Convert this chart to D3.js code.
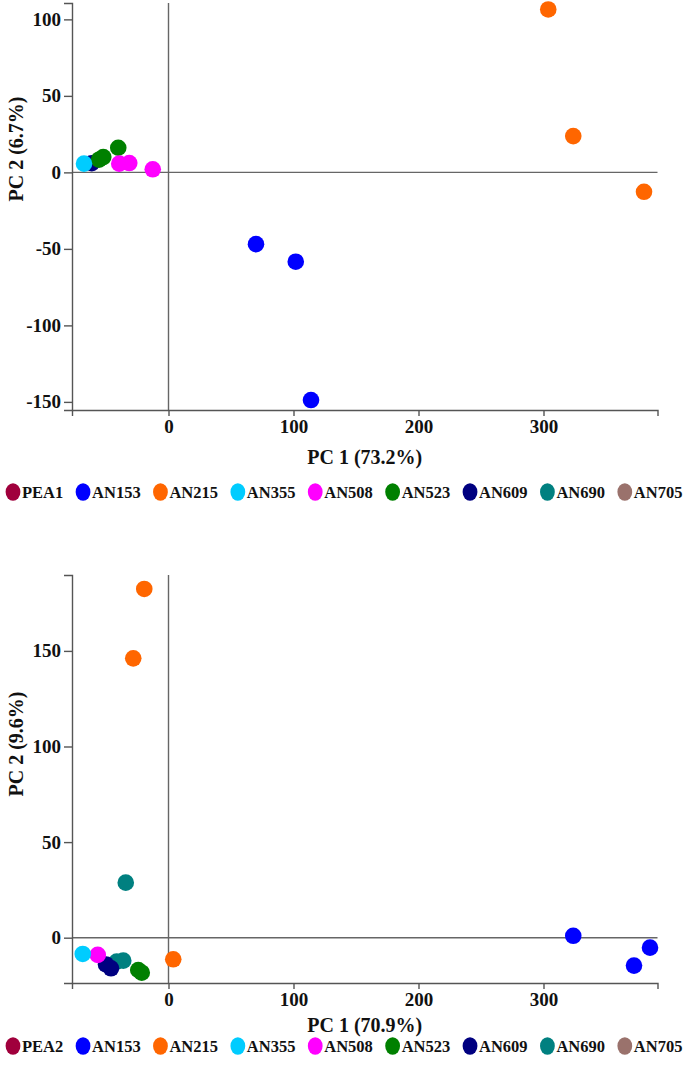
<!DOCTYPE html>
<html>
<head>
<meta charset="utf-8">
<script src="https://cdn.jsdelivr.net/npm/d3@7"></script>
<style>
  body { margin: 0; background: #fff; }
  svg text { font-family: "Liberation Serif", "Times New Roman", serif; font-weight: bold; fill: #111; }
</style>
</head>
<body>
<svg id="chart" width="685" height="1073"></svg>
<script>
// groups in legend order and their colours
const groups = ["AN153", "AN215", "AN355", "AN508", "AN523", "AN609", "AN690", "AN705"]
const colors = ["#0000ff", "#ff6600", "#00ccff", "#ff00ff", "#008000", "#000080", "#008080", "#9a726c"]
const refA = "PEA1"
const refB = "PEA2"
const refColor = "#a0003c"

// points of the first PCA: [group, PC1, PC2]
const pointsA = [
    ["AN153", 70, -46.9], ["AN153", 101.8, -58.4], ["AN153", 114, -148.8],
    ["AN215", 303.8, 106.5], ["AN215", 323.8, 23.7], ["AN215", 380.4, -12.7],
    ["AN355", -67.6, 5.7],
    ["AN508", -39.4, 5.7], ["AN508", -31.4, 6.1], ["AN508", -12.6, 2],
    ["AN523", -55.6, 8.3], ["AN523", -52.2, 10], ["AN523", -40.2, 16.1],
    ["AN609", -61.4, 6]
]

// points of the second PCA
const pointsB = [
    ["AN153", 323.8, 1.0], ["AN153", 385.2, -5.2], ["AN153", 372.4, -14.6],
    ["AN215", -19.4, 182.4], ["AN215", -28.2, 146.1], ["AN215", 3.8, -11.3],
    ["AN355", -68.6, -8.5],
    ["AN508", -56.6, -9],
    ["AN523", -24.2, -16.9], ["AN523", -21.4, -18.3],
    ["AN609", -50, -14], ["AN609", -46, -16],
    ["AN690", -34.2, 28.8], ["AN690", -41.4, -12.5], ["AN690", -36.2, -12]
]

const xTicks = [0, 100, 200, 300]
const yTicksA = [-150, -100, -50, 0, 50, 100]
const yTicksB = [0, 50, 100, 150]

const svg = d3.select("#chart")
const colorOf = d3.scaleOrdinal([refA, refB, ...groups], [refColor, refColor, ...colors])
// later groups are drawn first
const drawOrder = g => -groups.indexOf(g)
// plain hyphen for negatives, like the original
const fmt = d => String(d)

function panel(cfg) {
    let x = d3.scaleLinear().domain([-77.2, 391.2]).range([72, 657.5])
    let y = d3.scaleLinear().domain(cfg.yDomain).range([cfg.bottom, cfg.top])
    let g = svg.append("g")

    // zero lines
    g.append("line")
        .attr("x1", x(0)).attr("x2", x(0))
        .attr("y1", cfg.top).attr("y2", cfg.bottom)
        .attr("stroke", "#666").attr("stroke-width", 1.4)
    g.append("line")
        .attr("x1", 72).attr("x2", x.range()[1])
        .attr("y1", y(0)).attr("y2", y(0))
        .attr("stroke", "#666").attr("stroke-width", 1.4)

    let ax = g.append("g")
        .attr("transform", `translate(0,${cfg.bottom})`)
        .call(d3.axisBottom(x).tickValues(xTicks).tickFormat(fmt).tickSizeOuter(0).tickSize(6).tickPadding(4))
    let ay = g.append("g")
        .attr("transform", "translate(72,0)")
        .call(d3.axisLeft(y).tickValues(cfg.yTicks).tickFormat(fmt).tickSizeOuter(0).tickSize(8).tickPadding(3))
    for (const a of [ax, ay]) {
        a.selectAll("path, line").attr("stroke", "#555").attr("stroke-width", 1.4)
        a.selectAll("text")
            .attr("fill", "#111")
            .style("font-family", "'Liberation Serif', serif")
            .style("font-weight", "bold")
            .style("font-size", "19px")
    }

    let pts = cfg.points.slice().sort((a, b) => drawOrder(a[0]) - drawOrder(b[0]))
    g.append("g")
        .selectAll("circle")
        .data(pts)
        .join("circle")
        .attr("cx", d => x(d[1]))
        .attr("cy", d => y(d[2]))
        .attr("r", 8.3)
        .attr("fill", d => colorOf(d[0]))

    g.append("text")
        .attr("x", (x.range()[0] + x.range()[1]) / 2)
        .attr("y", cfg.xTitleY)
        .attr("text-anchor", "middle")
        .style("font-size", "20px")
        .text(cfg.xTitle)
    g.append("text")
        .attr("transform", `translate(23,${cfg.yTitleY}) rotate(-90)`)
        .attr("text-anchor", "middle")
        .style("font-size", "20px")
        .text(cfg.yTitle)

    // legend
    let leg = g.append("g").attr("transform", `translate(0,${cfg.legendY})`)
    let lx = 6
    for (const name of [cfg.ref, ...groups]) {
        leg.append("ellipse")
            .attr("cx", lx + 7).attr("cy", 0)
            .attr("rx", 7.4).attr("ry", 8.8)
            .attr("fill", colorOf(name))
        let t = leg.append("text")
            .attr("x", lx + 16).attr("y", 6)
            .style("font-size", "16.5px")
            .text(name)
        lx += 16 + t.node().getComputedTextLength() + 12.8
    }
}

panel({
    points: pointsA, yDomain: [-155.3, 110.7], yTicks: yTicksA,
    top: 3, bottom: 410, xTitle: "PC 1 (73.2%)", yTitle: "PC 2 (6.7%)",
    xTitleY: 464, yTitleY: 149, legendY: 492, ref: refA
})
panel({
    points: pointsB, yDomain: [-23.7, 189.7], yTicks: yTicksB,
    top: 575, bottom: 983, xTitle: "PC 1 (70.9%)", yTitle: "PC 2 (9.6%)",
    xTitleY: 1032, yTitleY: 744, legendY: 1046, ref: refB
})
</script>
</body>
</html>
